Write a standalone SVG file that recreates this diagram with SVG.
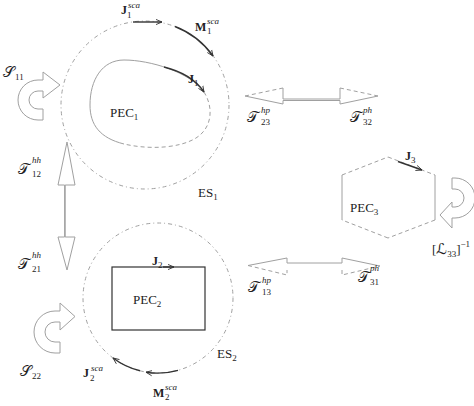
<svg xmlns="http://www.w3.org/2000/svg" width="474" height="406" viewBox="0 0 474 406">
<defs>
<style>
.t{font-family:"Liberation Serif","DejaVu Serif",serif;fill:#222;font-size:13px}
.b{font-weight:bold;font-size:12px}
.sm{font-size:9px}
.i{font-style:italic}
.scr{font-family:"DejaVu Serif","DejaVu Sans",serif;font-size:15px}
.es{fill:none;stroke:#a0a0a0;stroke-width:1;stroke-dasharray:4 3 1 3}
.g{fill:none;stroke:#a0a0a0;stroke-width:1}
.gd{fill:none;stroke:#a0a0a0;stroke-width:1;stroke-dasharray:4 3}
.dk{fill:none;stroke:#333;stroke-width:1.4}
.pec{fill:none;stroke:#333;stroke-width:1.2}
</style>
<marker id="ah" viewBox="0 0 8 8" refX="7" refY="4" markerWidth="7" markerHeight="7" orient="auto" markerUnits="userSpaceOnUse">
<path d="M0,1 L7,4 L0,7" fill="none" stroke="#333" stroke-width="1"/>
</marker>
</defs>
<rect width="474" height="406" fill="#fff"/>

<g id="ES1">
<circle class="es" cx="145" cy="105" r="84"/>
<text class="t" x="198" y="197">ES<tspan class="sm" dy="3">1</tspan></text>
</g>

<g id="PEC1">
<path class="g" stroke="#888" d="M124,144 C100,138 90,125 90,105 C90,80 102,60 124,60 C150,60 190,72 204,92"/>
<path class="gd" d="M204,92 C214,108 212,128 196,138 C180,148 150,150 124,144"/>
<text class="t" x="110" y="117">PEC<tspan class="sm" dy="3">1</tspan></text>
</g>

<g id="ES2">
<circle class="es" cx="158" cy="298" r="75"/>
<text class="t" x="217" y="358">ES<tspan class="sm" dy="3">2</tspan></text>
</g>

<g id="PEC2">
<rect class="pec" x="112" y="267" width="93" height="63"/>
<text class="t" x="133" y="304">PEC<tspan class="sm" dy="3">2</tspan></text>
</g>

<g id="PEC3">
<line class="gd" x1="342" y1="175" x2="388" y2="157"/>
<line class="gd" x1="388" y1="157" x2="435" y2="175"/>
<line class="g" x1="435" y1="175" x2="435" y2="220"/>
<line class="gd" x1="435" y1="220" x2="388" y2="238" stroke-dasharray="2 3"/>
<line class="gd" x1="388" y1="238" x2="342" y2="220" stroke-dasharray="2 3"/>
<line class="g" x1="342" y1="220" x2="342" y2="175"/>
<text class="t" x="350" y="212">PEC<tspan class="sm" dy="3">3</tspan></text>
</g>

<g id="S11">
<path class="g" d="M43,120 L38,120 A20,20 0 0 1 38,80 L43,80 L43,72 L60,85 L43,98 L43,91 L38,91 A9,9 0 0 0 38,109 L43,109 Z"/>
<text class="t" x="3" y="77"><tspan class="scr">𝒮</tspan><tspan class="sm" dy="3">11</tspan></text>
</g>

<g id="S22">
<path class="g" d="M60,353 L55,353 A21,21 0 0 1 55,311 L60,311 L60,303 L75,316.5 L60,330 L60,322 L55,322 A10,10 0 0 0 55,342 L60,342 Z"/>
<text class="t" x="20" y="376"><tspan class="scr" font-size="14">𝒮</tspan><tspan class="sm" dy="3">22</tspan></text>
</g>

<g id="S33">
<path class="g" d="M452,178 L455,178 A20,20 0 0 1 455,218 L452,218 L452,228 L440,215 L452,202 L452,207 L455,207 A9,9 0 0 0 455,189 L452,189 Z"/>
<text class="t" x="432" y="254">[<tspan class="scr">ℒ</tspan><tspan class="sm" dy="3">33</tspan><tspan dy="-3">]</tspan><tspan class="sm" dy="-7">−1</tspan></text>
</g>

<g id="connectors">
<path class="g" d="M58,185 L67,142 L75,185 L65.2,185 L65.2,237 L75,237 L67,270 L58,237 L64.6,237 L64.6,185 Z"/>
<path class="g" d="M245,96 L283,104 L283,100.5 L340,100.5 L340,104 L378,96 M283,88 L283,99 L340,99 L340,88"/>
<path class="gd" d="M245,96 L283,88 M340,88 L378,96"/>
<path class="g" d="M248,265.5 L287,258 L287,263 L342,263 L342,258 L380,266"/>
<path class="gd" d="M248,265.5 L287,275 L287,270 M342,270 L342,275 L380,266"/>
<line class="dk" x1="133" y1="22" x2="162" y2="22" marker-end="url(#ah)"/>
<path class="dk" d="M175,26.5 A84,84 0 0 1 213,56" marker-end="url(#ah)"/>
<path class="dk" d="M164,67 Q192,74 204,92" marker-end="url(#ah)"/>
<line class="dk" x1="163" y1="267" x2="174" y2="267" marker-end="url(#ah)"/>
<path class="dk" d="M140,370.8 A75,75 0 0 1 113,358" marker-end="url(#ah)"/>
<path class="dk" d="M178,370.3 A75,75 0 0 1 146,372.2" marker-end="url(#ah)"/>
<line class="dk" x1="398" y1="161.5" x2="422" y2="170" marker-end="url(#ah)"/>
</g>

<g id="labels">
<text class="t"><tspan class="b" x="121" y="14">J</tspan><tspan class="sm" x="127" y="18">1</tspan><tspan class="sm i" x="128" y="8">sca</tspan></text>
<text class="t"><tspan class="b" x="195" y="31">M</tspan><tspan class="sm" x="207" y="34">1</tspan><tspan class="sm i" x="207" y="24">sca</tspan></text>
<text class="t"><tspan class="b" x="188" y="83">J</tspan><tspan class="sm" x="194" y="86">1</tspan></text>
<text class="t"><tspan class="b" x="152" y="265">J</tspan><tspan class="sm" x="158" y="268">2</tspan></text>
<text class="t"><tspan class="b" x="83" y="377">J</tspan><tspan class="sm" x="90" y="381">2</tspan><tspan class="sm i" x="91" y="371">sca</tspan></text>
<text class="t"><tspan class="b" x="153" y="397">M</tspan><tspan class="sm" x="165" y="400">2</tspan><tspan class="sm i" x="165" y="390">sca</tspan></text>
<text class="t"><tspan class="b" x="405" y="160">J</tspan><tspan class="sm" x="411" y="163">3</tspan></text>
<text class="t"><tspan class="scr" x="18" y="174">𝒯</tspan><tspan class="sm i" x="32" y="163">hh</tspan><tspan class="sm" x="32" y="177">12</tspan></text>
<text class="t"><tspan class="scr" x="18" y="269">𝒯</tspan><tspan class="sm i" x="32" y="258">hh</tspan><tspan class="sm" x="32" y="272">21</tspan></text>
<text class="t"><tspan class="scr" x="247" y="122">𝒯</tspan><tspan class="sm i" x="261" y="113">hp</tspan><tspan class="sm" x="261" y="125">23</tspan></text>
<text class="t"><tspan class="scr" x="350" y="122">𝒯</tspan><tspan class="sm i" x="363" y="113">ph</tspan><tspan class="sm" x="363" y="125">32</tspan></text>
<text class="t"><tspan class="scr" x="248" y="292">𝒯</tspan><tspan class="sm i" x="262" y="283">hp</tspan><tspan class="sm" x="262" y="295">13</tspan></text>
<text class="t"><tspan class="scr" x="358" y="282">𝒯</tspan><tspan class="sm i" x="370" y="271">ph</tspan><tspan class="sm" x="370" y="285">31</tspan></text>
</g>
</svg>
